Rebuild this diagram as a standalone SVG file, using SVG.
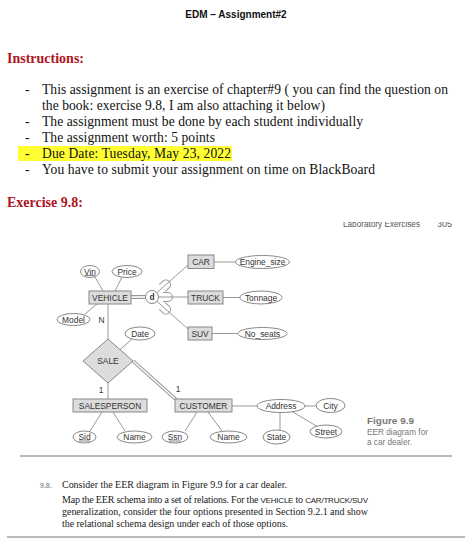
<svg xmlns="http://www.w3.org/2000/svg" width="474" height="540" viewBox="0 0 474 540">
<style>
.doc{font-family:"Liberation Serif","Times New Roman",serif;font-size:13.6px;fill:#111}
.head{font-family:"Liberation Serif","Times New Roman",serif;font-size:14px;font-weight:bold;fill:#b0141e}
.ent rect{fill:#dcdcdc;stroke:#888;stroke-width:1}
.att ellipse{fill:#fff;stroke:#888;stroke-width:1}
.rel polygon{fill:#dcdcdc;stroke:#888;stroke-width:1}
.lbl{font-family:"Liberation Sans",Arial,sans-serif;font-size:8.4px;fill:#333;text-anchor:middle}
.conn line{stroke:#999;stroke-width:1;fill:none}
.cap{font-family:"Liberation Sans",Arial,sans-serif;font-size:8.5px;fill:#777}
.bk{font-family:"Liberation Serif","Times New Roman",serif;font-size:10px;fill:#222}
.sc{font-family:"Liberation Sans Narrow","Liberation Sans",Arial,sans-serif;font-size:8px}
.sub{fill:none;stroke:#999;stroke-width:1}
</style>
<defs>
<clipPath id="topclip"><rect x="330" y="222" width="140" height="10"/></clipPath>
<path id="subset" d="M -5 -4.5 H 0 A 4.5 4.5 0 0 1 0 4.5 H -5"/>
</defs>
<rect width="474" height="540" fill="#fff"/>

<!-- header -->
<text x="236" y="18" font-family="'Liberation Sans',Arial,sans-serif" font-size="10" font-weight="bold" fill="#111" text-anchor="middle">EDM – Assignment#2</text>
<text class="head" x="7" y="63">Instructions:</text>

<rect x="18" y="146" width="214" height="15" fill="#ffff33"/>
<g class="doc">
<text x="25" y="94">-</text><text x="42" y="94" textLength="406" lengthAdjust="spacing">This assignment is an exercise of chapter#9 ( you can find the question on</text>
<text x="42" y="110" textLength="283" lengthAdjust="spacing">the book: exercise 9.8, I am also attaching it below)</text>
<text x="25" y="126">-</text><text x="42" y="126" textLength="321" lengthAdjust="spacing">The assignment must be done by each student individually</text>
<text x="25" y="142">-</text><text x="42" y="142" textLength="173" lengthAdjust="spacing">The assignment worth: 5 points</text>
<text x="25" y="158">-</text><text x="42" y="158" textLength="189" lengthAdjust="spacing">Due Date: Tuesday, May 23, 2022</text>
<text x="25" y="174">-</text><text x="42" y="174" textLength="333" lengthAdjust="spacing">You have to submit your assignment on time on BlackBoard</text>
</g>
<text class="head" x="7" y="207">Exercise 9.8:</text>

<g clip-path="url(#topclip)" font-family="'Liberation Sans',Arial,sans-serif" font-size="8.5" fill="#555">
<text x="343" y="227" textLength="77" lengthAdjust="spacingAndGlyphs">Laboratory Exercises</text>
<text x="437" y="227" textLength="15" lengthAdjust="spacingAndGlyphs">305</text>
</g>

<!-- connectors -->
<g id="connectors" class="conn">
<line x1="131" y1="297" x2="146" y2="297" style="stroke-width:4"/>
<line x1="131" y1="297" x2="146" y2="297" style="stroke:#fff;stroke-width:1.6"/>
<line x1="156.9" y1="292.7" x2="188" y2="265"/>
<line x1="158.5" y1="297" x2="188" y2="297"/>
<line x1="156.9" y1="301.3" x2="188" y2="329"/>
<use href="#subset" class="sub" transform="translate(166,284.6) rotate(-41.6)"/>
<use href="#subset" class="sub" transform="translate(168,297)"/>
<use href="#subset" class="sub" transform="translate(166,309.4) rotate(41.6)"/>
<line x1="214" y1="262" x2="235" y2="262"/>
<line x1="223" y1="297.5" x2="240" y2="297.5"/>
<line x1="212" y1="333.5" x2="238" y2="333.5"/>
<line x1="95" y1="277" x2="103" y2="291"/>
<line x1="122" y1="277" x2="115" y2="291"/>
<line x1="85" y1="314" x2="97" y2="304"/>
<line x1="108" y1="304" x2="108" y2="339"/>
<line x1="132" y1="339" x2="120" y2="349.5"/>
<line x1="108" y1="383" x2="108" y2="399"/>
<line x1="133" y1="361" x2="176" y2="399.5" style="stroke-width:3.6"/>
<line x1="133" y1="361" x2="176" y2="399.5" style="stroke:#fff;stroke-width:1.5"/>
<line x1="102" y1="412" x2="90" y2="431"/>
<line x1="113" y1="412" x2="125" y2="431"/>
<line x1="197" y1="412" x2="185" y2="431"/>
<line x1="208" y1="412" x2="222" y2="431"/>
<line x1="232" y1="406" x2="257" y2="406"/>
<line x1="305" y1="406" x2="316" y2="406"/>
<line x1="280" y1="412.5" x2="280" y2="430"/>
<line x1="293" y1="412" x2="318" y2="427"/>
</g>

<!-- entities -->
<g id="vehicle" class="ent"><rect x="89" y="291" width="42" height="13"/><text class="lbl" x="110" y="300.7">VEHICLE</text></g>
<g id="car" class="ent"><rect x="188" y="255" width="26" height="13.5"/><text class="lbl" x="201" y="264.9">CAR</text></g>
<g id="truck" class="ent"><rect x="188" y="291" width="35" height="13"/><text class="lbl" x="205.5" y="300.7">TRUCK</text></g>
<g id="suv" class="ent"><rect x="188" y="327" width="24" height="13"/><text class="lbl" x="200" y="336.7">SUV</text></g>
<g id="salesperson" class="ent"><rect x="73" y="399" width="74" height="13"/><text class="lbl" x="110" y="408.7">SALESPERSON</text></g>
<g id="customer" class="ent"><rect x="175" y="399" width="57" height="13"/><text class="lbl" x="203.5" y="408.7">CUSTOMER</text></g>

<!-- disjoint circle -->
<g id="disjoint"><circle cx="152" cy="297" r="6.5" fill="#fff" stroke="#888"/><text class="lbl" x="152" y="300" font-weight="bold">d</text></g>

<!-- relationship -->
<g id="sale" class="rel"><polygon points="108,339 133,361 108,383 83,361"/><text class="lbl" x="108" y="364">SALE</text></g>
<text class="lbl" x="101.5" y="323" font-size="7.5">N</text>
<text class="lbl" x="101" y="393" font-size="7.5">1</text>
<text class="lbl" x="178" y="392" font-size="7.5">1</text>

<!-- attributes -->
<g id="vin" class="att"><ellipse cx="90" cy="271.5" rx="9.5" ry="6"/><text class="lbl" x="90" y="274.5">Vin</text><line x1="85" y1="275.5" x2="95" y2="275.5" stroke="#333" stroke-width="0.6"/></g>
<g id="price" class="att"><ellipse cx="127" cy="271.5" rx="15" ry="6"/><text class="lbl" x="127" y="274.5">Price</text></g>
<g id="model" class="att"><ellipse cx="73.5" cy="319.5" rx="16.5" ry="6"/><text class="lbl" x="73.5" y="322.5">Model</text></g>
<g id="date" class="att"><ellipse cx="140" cy="333.5" rx="15" ry="6.5"/><text class="lbl" x="140" y="336.5">Date</text></g>
<g id="engine_size" class="att"><ellipse cx="262.5" cy="262" rx="27" ry="6.5"/><text class="lbl" x="262.5" y="265">Engine_size</text></g>
<g id="tonnage" class="att"><ellipse cx="261" cy="297.5" rx="21" ry="6.5"/><text class="lbl" x="261" y="300.5">Tonnage</text></g>
<g id="no_seats" class="att"><ellipse cx="262.5" cy="333.5" rx="24.5" ry="6"/><text class="lbl" x="262.5" y="336.5">No_seats</text></g>
<g id="sid" class="att"><ellipse cx="84.5" cy="437" rx="11.5" ry="6"/><text class="lbl" x="84.5" y="440">Sid</text><line x1="79" y1="441" x2="90" y2="441" stroke="#333" stroke-width="0.6"/></g>
<g id="sp_name" class="att"><ellipse cx="134.5" cy="437" rx="17.5" ry="6"/><text class="lbl" x="134.5" y="440">Name</text></g>
<g id="ssn" class="att"><ellipse cx="175" cy="437" rx="13" ry="6"/><text class="lbl" x="175" y="440">Ssn</text><line x1="169" y1="441" x2="181" y2="441" stroke="#333" stroke-width="0.6"/></g>
<g id="cu_name" class="att"><ellipse cx="228.5" cy="437" rx="18.5" ry="6"/><text class="lbl" x="228.5" y="440">Name</text></g>
<g id="address" class="att"><ellipse cx="281" cy="406" rx="24" ry="6.5"/><text class="lbl" x="281" y="409">Address</text></g>
<g id="city" class="att"><ellipse cx="330.5" cy="405.5" rx="14.5" ry="7"/><text class="lbl" x="330.5" y="408.5">City</text></g>
<g id="state" class="att"><ellipse cx="276.5" cy="437" rx="13.5" ry="7"/><text class="lbl" x="276.5" y="440">State</text></g>
<g id="street" class="att"><ellipse cx="326" cy="431.5" rx="16" ry="6.5"/><text class="lbl" x="326" y="434.5">Street</text></g>

<!-- caption -->
<text class="cap" x="367" y="424" font-weight="bold" fill="#333" textLength="47" lengthAdjust="spacingAndGlyphs">Figure 9.9</text>
<text class="cap" x="367" y="435" textLength="61" lengthAdjust="spacingAndGlyphs">EER diagram for</text>
<text class="cap" x="367" y="445" textLength="45" lengthAdjust="spacingAndGlyphs">a car dealer.</text>

<line x1="20" y1="456" x2="452" y2="456" stroke="#bbb" stroke-width="2"/>

<!-- book text -->
<text x="40" y="488" font-family="'Liberation Sans',Arial,sans-serif" font-size="7" font-weight="bold" fill="#999">9.8.</text>
<text class="bk" x="62" y="488" textLength="225" lengthAdjust="spacing">Consider the EER diagram in Figure 9.9 for a car dealer.</text>
<text class="bk" x="62" y="503" textLength="306" lengthAdjust="spacing">Map the EER schema into a set of relations. For the <tspan class="sc">VEHICLE</tspan> to <tspan class="sc">CAR/TRUCK/SUV</tspan></text>
<text class="bk" x="62" y="515" textLength="306" lengthAdjust="spacing">generalization, consider the four options presented in Section 9.2.1 and show</text>
<text class="bk" x="62" y="527" textLength="226" lengthAdjust="spacing">the relational schema design under each of those options.</text>
<line x1="7" y1="537" x2="465" y2="537" stroke="#bbb" stroke-width="2"/>
</svg>
